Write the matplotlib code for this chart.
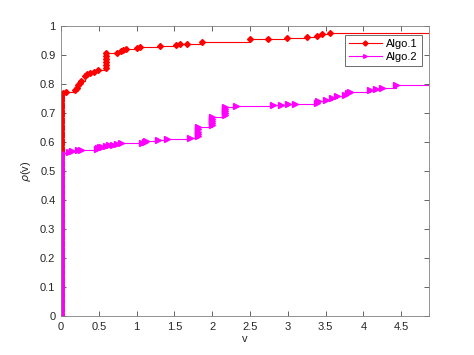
import numpy as np
import matplotlib
matplotlib.use('Agg')
import matplotlib.pyplot as plt

# performance profile
n_problems = 250
algo1_zero = 190   # problems with ratio 0 (thick line at v=0)
algo2_zero = 140

algo1_v = [0.03, 0.06, 0.19, 0.21, 0.23, 0.25, 0.27, 0.32, 0.35, 0.38,
           0.43, 0.49, 0.59, 0.59, 0.59, 0.59, 0.59, 0.59, 0.74, 0.80,
           0.82, 0.86, 1.00, 1.05, 1.31, 1.52, 1.58, 1.67, 1.86, 2.50,
           2.74, 2.99, 3.25, 3.38, 3.45, 3.56]
algo1_rho = [0.768, 0.773, 0.779, 0.787, 0.795, 0.803, 0.810, 0.826, 0.833,
             0.839, 0.843, 0.848, 0.856, 0.866, 0.876, 0.886, 0.896, 0.906,
             0.908, 0.913, 0.917, 0.921, 0.925, 0.927, 0.931, 0.935, 0.937,
             0.939, 0.945, 0.954, 0.955, 0.957, 0.961, 0.966, 0.971, 0.977]

algo2_v = [0.01, 0.10, 0.14, 0.23, 0.27, 0.47, 0.49, 0.52, 0.54, 0.60,
           0.64, 0.69, 0.74, 0.80, 1.07, 1.11, 1.13, 1.28, 1.40, 1.70,
           1.81, 1.81, 1.81, 1.81, 1.81, 2.00, 2.00, 2.00, 2.00, 2.00,
           2.17, 2.17, 2.17, 2.17, 2.17, 2.32, 2.81, 2.91, 3.00, 3.09,
           3.38, 3.40, 3.51, 3.58, 3.65, 3.76, 3.80, 3.82, 4.09, 4.17,
           4.25, 4.43]
algo2_rho = [0.563, 0.565, 0.568, 0.571, 0.574, 0.577, 0.579, 0.582, 0.584,
             0.586, 0.588, 0.590, 0.592, 0.595, 0.598, 0.600, 0.602, 0.606,
             0.609, 0.613, 0.620, 0.628, 0.636, 0.644, 0.650, 0.657, 0.664,
             0.671, 0.678, 0.685, 0.692, 0.699, 0.706, 0.713, 0.720, 0.723,
             0.726, 0.728, 0.730, 0.732, 0.736, 0.740, 0.745, 0.750, 0.757,
             0.762, 0.768, 0.774, 0.778, 0.781, 0.785, 0.797]

v_max = 4.87

plt.rcParams['font.family'] = ['Liberation Sans', 'DejaVu Sans']
plt.rcParams['font.size'] = 8
axcol = '#262626'

fig = plt.figure(figsize=(4.74, 3.55), dpi=100)
ax = fig.add_axes([0.1287, 0.1099, 0.7767, 0.8169])


def profile(zero_count, v, rho):
    # steps at v=0 first, then the read points, then out to the axis edge
    x = [0.0] + [0.0] * zero_count + list(v) + [v_max]
    y = [0.0] + list(np.arange(1, zero_count + 1) / n_problems) + list(rho) + [rho[-1]]
    return x, y


x1, y1 = profile(algo1_zero, algo1_v, algo1_rho)
x2, y2 = profile(algo2_zero, algo2_v, algo2_rho)

ax.plot(x1, y1, drawstyle='steps-post', color='#ff0000', lw=0.8,
        marker='D', ms=3.0, markevery=slice(1, -1), label='Algo.1')
ax.plot(x2, y2, drawstyle='steps-post', color='#ff00ff', lw=0.8,
        marker='>', ms=3.8, markevery=slice(1, -1), label='Algo.2')

ax.set_xlim(0, v_max)
ax.set_ylim(0, 1)
ax.set_xticks(np.arange(0, 4.6, 0.5))
ax.set_xticklabels(['0', '0.5', '1', '1.5', '2', '2.5', '3', '3.5', '4', '4.5'])
ax.set_yticks(np.arange(0, 1.01, 0.1))
ax.set_yticklabels(['0', '0.1', '0.2', '0.3', '0.4', '0.5', '0.6', '0.7',
                    '0.8', '0.9', '1'])
ax.tick_params(direction='in', length=3.5, width=0.5, colors=axcol,
               top=True, right=True, labelsize=8, pad=4)
for s in ax.spines.values():
    s.set_linewidth(0.6)
    s.set_color('#808080')

ax.set_xlabel('v', color=axcol, labelpad=2)
ax.set_ylabel(r'$\rho$(v)', color=axcol, labelpad=5)

leg = ax.legend(loc='upper right', bbox_to_anchor=(0.98, 0.968), numpoints=1,
                fancybox=False, framealpha=1, edgecolor='#555555',
                handlelength=3.0, borderpad=0.35, labelspacing=0.25,
                handletextpad=0.4, borderaxespad=0.0, fontsize=8)
leg.get_frame().set_linewidth(0.6)
for h in leg.legend_handles:
    h.set_markersize(2.6)

fig.savefig('out.png', dpi=100)
